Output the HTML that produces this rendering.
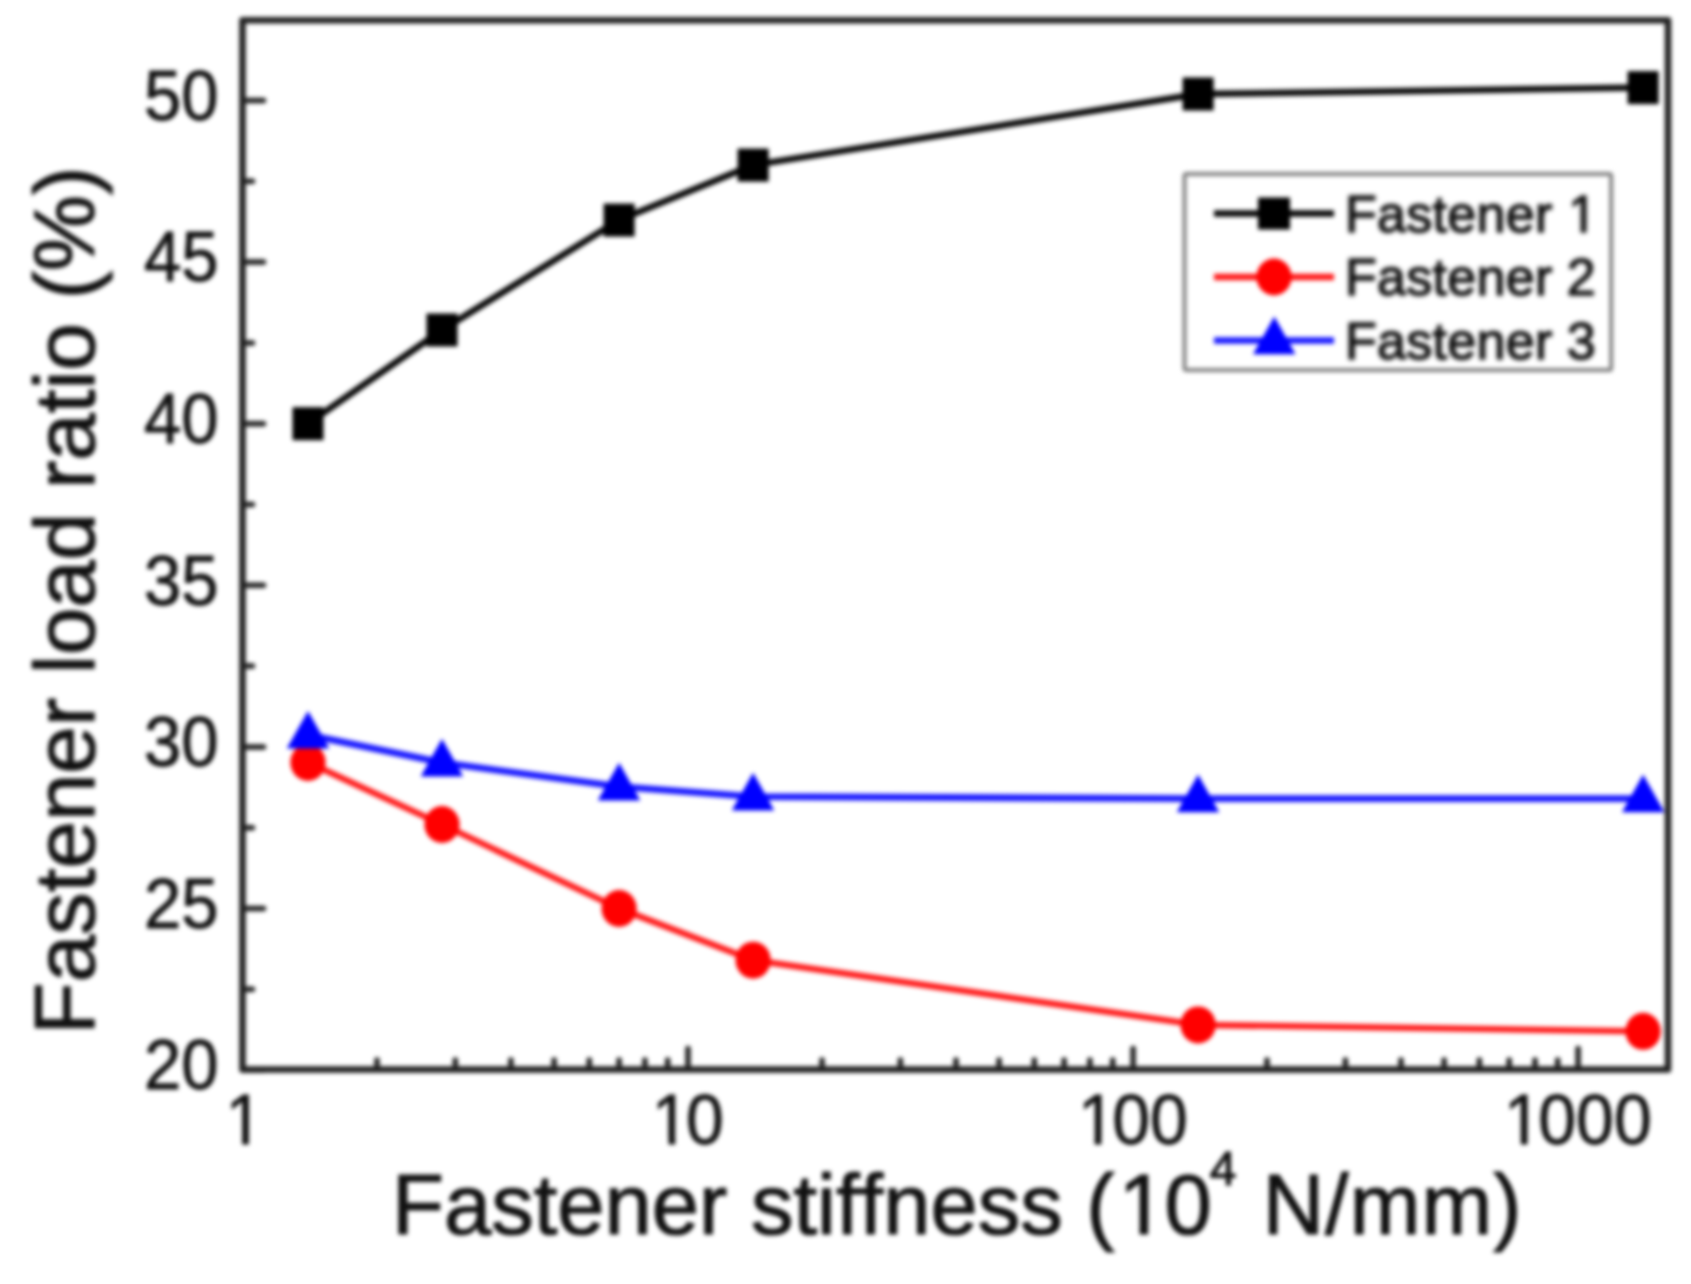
<!DOCTYPE html>
<html><head><meta charset="utf-8"><title>Fastener load ratio</title>
<style>
html,body{margin:0;padding:0;background:#fff;}
body{width:1691px;height:1284px;overflow:hidden;}
svg{display:block;font-family:"Liberation Sans",sans-serif;}
text{stroke:#111;stroke-width:0.8px;font-kerning:none;font-variant-ligatures:none;}
</style></head><body>
<svg width="1691" height="1284" viewBox="0 0 1691 1284">
<defs>
<filter id="b" color-interpolation-filters="sRGB" x="-5%" y="-5%" width="110%" height="110%"><feGaussianBlur stdDeviation="1.9" color-interpolation-filters="sRGB"/></filter>
<filter id="b2" color-interpolation-filters="sRGB" x="-5%" y="-20%" width="110%" height="140%"><feGaussianBlur stdDeviation="0.8"/></filter>
<clipPath id="c"><rect x="0" y="0" width="1691" height="1255.5"/></clipPath>
</defs>
<rect width="1691" height="1284" fill="#fff"/>
<g filter="url(#b)">

<rect x="242.5" y="20.3" width="1425.5" height="1049.2" fill="none" stroke="#222" stroke-width="6.6" stroke-linejoin="round"/>
<line x1="242.5" y1="1070.1" x2="263.5" y2="1070.1" stroke="#222" stroke-width="5.5" stroke-linecap="round"/>
<line x1="242.5" y1="908.5" x2="263.5" y2="908.5" stroke="#222" stroke-width="5.5" stroke-linecap="round"/>
<line x1="242.5" y1="746.9" x2="263.5" y2="746.9" stroke="#222" stroke-width="5.5" stroke-linecap="round"/>
<line x1="242.5" y1="585.3" x2="263.5" y2="585.3" stroke="#222" stroke-width="5.5" stroke-linecap="round"/>
<line x1="242.5" y1="423.7" x2="263.5" y2="423.7" stroke="#222" stroke-width="5.5" stroke-linecap="round"/>
<line x1="242.5" y1="262.1" x2="263.5" y2="262.1" stroke="#222" stroke-width="5.5" stroke-linecap="round"/>
<line x1="242.5" y1="100.5" x2="263.5" y2="100.5" stroke="#222" stroke-width="5.5" stroke-linecap="round"/>
<line x1="242.5" y1="989.3" x2="252.5" y2="989.3" stroke="#222" stroke-width="5.5" stroke-linecap="round"/>
<line x1="242.5" y1="827.7" x2="252.5" y2="827.7" stroke="#222" stroke-width="5.5" stroke-linecap="round"/>
<line x1="242.5" y1="666.1" x2="252.5" y2="666.1" stroke="#222" stroke-width="5.5" stroke-linecap="round"/>
<line x1="242.5" y1="504.5" x2="252.5" y2="504.5" stroke="#222" stroke-width="5.5" stroke-linecap="round"/>
<line x1="242.5" y1="342.9" x2="252.5" y2="342.9" stroke="#222" stroke-width="5.5" stroke-linecap="round"/>
<line x1="242.5" y1="181.3" x2="252.5" y2="181.3" stroke="#222" stroke-width="5.5" stroke-linecap="round"/>
<line x1="377.0" y1="1069.5" x2="377.0" y2="1060.0" stroke="#222" stroke-width="5.5" stroke-linecap="round"/>
<line x1="455.3" y1="1069.5" x2="455.3" y2="1060.0" stroke="#222" stroke-width="5.5" stroke-linecap="round"/>
<line x1="510.9" y1="1069.5" x2="510.9" y2="1060.0" stroke="#222" stroke-width="5.5" stroke-linecap="round"/>
<line x1="554.1" y1="1069.5" x2="554.1" y2="1060.0" stroke="#222" stroke-width="5.5" stroke-linecap="round"/>
<line x1="589.3" y1="1069.5" x2="589.3" y2="1060.0" stroke="#222" stroke-width="5.5" stroke-linecap="round"/>
<line x1="619.1" y1="1069.5" x2="619.1" y2="1060.0" stroke="#222" stroke-width="5.5" stroke-linecap="round"/>
<line x1="644.9" y1="1069.5" x2="644.9" y2="1060.0" stroke="#222" stroke-width="5.5" stroke-linecap="round"/>
<line x1="667.7" y1="1069.5" x2="667.7" y2="1060.0" stroke="#222" stroke-width="5.5" stroke-linecap="round"/>
<line x1="688.0" y1="1069.5" x2="688.0" y2="1048.5" stroke="#222" stroke-width="5.5" stroke-linecap="round"/>
<line x1="822.0" y1="1069.5" x2="822.0" y2="1060.0" stroke="#222" stroke-width="5.5" stroke-linecap="round"/>
<line x1="900.4" y1="1069.5" x2="900.4" y2="1060.0" stroke="#222" stroke-width="5.5" stroke-linecap="round"/>
<line x1="956.0" y1="1069.5" x2="956.0" y2="1060.0" stroke="#222" stroke-width="5.5" stroke-linecap="round"/>
<line x1="999.1" y1="1069.5" x2="999.1" y2="1060.0" stroke="#222" stroke-width="5.5" stroke-linecap="round"/>
<line x1="1034.3" y1="1069.5" x2="1034.3" y2="1060.0" stroke="#222" stroke-width="5.5" stroke-linecap="round"/>
<line x1="1064.1" y1="1069.5" x2="1064.1" y2="1060.0" stroke="#222" stroke-width="5.5" stroke-linecap="round"/>
<line x1="1089.9" y1="1069.5" x2="1089.9" y2="1060.0" stroke="#222" stroke-width="5.5" stroke-linecap="round"/>
<line x1="1112.7" y1="1069.5" x2="1112.7" y2="1060.0" stroke="#222" stroke-width="5.5" stroke-linecap="round"/>
<line x1="1133.1" y1="1069.5" x2="1133.1" y2="1048.5" stroke="#222" stroke-width="5.5" stroke-linecap="round"/>
<line x1="1267.0" y1="1069.5" x2="1267.0" y2="1060.0" stroke="#222" stroke-width="5.5" stroke-linecap="round"/>
<line x1="1345.4" y1="1069.5" x2="1345.4" y2="1060.0" stroke="#222" stroke-width="5.5" stroke-linecap="round"/>
<line x1="1401.0" y1="1069.5" x2="1401.0" y2="1060.0" stroke="#222" stroke-width="5.5" stroke-linecap="round"/>
<line x1="1444.1" y1="1069.5" x2="1444.1" y2="1060.0" stroke="#222" stroke-width="5.5" stroke-linecap="round"/>
<line x1="1479.4" y1="1069.5" x2="1479.4" y2="1060.0" stroke="#222" stroke-width="5.5" stroke-linecap="round"/>
<line x1="1509.2" y1="1069.5" x2="1509.2" y2="1060.0" stroke="#222" stroke-width="5.5" stroke-linecap="round"/>
<line x1="1535.0" y1="1069.5" x2="1535.0" y2="1060.0" stroke="#222" stroke-width="5.5" stroke-linecap="round"/>
<line x1="1557.7" y1="1069.5" x2="1557.7" y2="1060.0" stroke="#222" stroke-width="5.5" stroke-linecap="round"/>
<line x1="1578.1" y1="1069.5" x2="1578.1" y2="1048.5" stroke="#222" stroke-width="5.5" stroke-linecap="round"/>
<polyline points="308.0,423.7 442.0,330.0 619.1,220.1 753.1,165.1 1198.1,94.0 1643.1,87.6" fill="none" stroke="#0a0a0a" stroke-width="6.5" stroke-linejoin="round"/>
<polyline points="308.0,762.4 442.0,824.5 619.1,908.5 753.1,960.2 1198.1,1024.9 1643.1,1031.3" fill="none" stroke="#ff1a1a" stroke-width="6.3" stroke-linejoin="round"/>
<polyline points="308.0,734.9 442.0,762.7 619.1,786.7 753.1,796.7 1198.1,798.6 1643.1,798.6" fill="none" stroke="#1a1aff" stroke-width="6.8" stroke-linejoin="round"/>
<rect x="292.5" y="407.2" width="31" height="33" fill="#000"/>
<rect x="426.5" y="313.5" width="31" height="33" fill="#000"/>
<rect x="603.6" y="203.6" width="31" height="33" fill="#000"/>
<rect x="737.6" y="148.6" width="31" height="33" fill="#000"/>
<rect x="1182.6" y="77.5" width="31" height="33" fill="#000"/>
<rect x="1627.6" y="71.1" width="31" height="33" fill="#000"/>
<ellipse cx="308.0" cy="762.4" rx="17.6" ry="18.5" fill="#f00"/>
<ellipse cx="442.0" cy="824.5" rx="17.6" ry="18.5" fill="#f00"/>
<ellipse cx="619.1" cy="908.5" rx="17.6" ry="18.5" fill="#f00"/>
<ellipse cx="753.1" cy="960.2" rx="17.6" ry="18.5" fill="#f00"/>
<ellipse cx="1198.1" cy="1024.9" rx="17.6" ry="18.5" fill="#f00"/>
<ellipse cx="1643.1" cy="1031.3" rx="17.6" ry="18.5" fill="#f00"/>
<polygon points="308.0,710.9 329.3,748.6 286.8,748.6" fill="#00f"/>
<polygon points="442.0,738.7 463.2,776.4 420.7,776.4" fill="#00f"/>
<polygon points="619.1,762.7 640.3,800.4 597.8,800.4" fill="#00f"/>
<polygon points="753.1,772.7 774.3,810.4 731.8,810.4" fill="#00f"/>
<polygon points="1198.1,774.6 1219.3,812.3 1176.8,812.3" fill="#00f"/>
<polygon points="1643.1,774.6 1664.4,812.3 1621.9,812.3" fill="#00f"/>
<rect x="1184.5" y="174" width="426.7" height="196" fill="#fff" stroke="#828282" stroke-width="4" rx="2"/>
<line x1="1214" y1="213.5" x2="1334" y2="213.5" stroke="#0a0a0a" stroke-width="6.5"/>
<line x1="1214" y1="277" x2="1334" y2="277" stroke="#ff1a1a" stroke-width="6.3"/>
<line x1="1214" y1="340.5" x2="1334" y2="340.5" stroke="#1a1aff" stroke-width="6.5"/>
<rect x="1258.0" y="197.5" width="32" height="32" fill="#000"/>
<ellipse cx="1274.0" cy="277.0" rx="17.6" ry="18.5" fill="#f00"/>
<polygon points="1274.3,316.5 1295.5,354.2 1253.0,354.2" fill="#00f"/>
<g filter="url(#b2)">
<text id="lg1" x="1345" y="231.5" font-size="52" letter-spacing="0.3" style="stroke-width:1.4px" fill="#111">Fastener <tspan x="1568.15">1</tspan></text>
<rect x="1570.42" y="226.32" width="10.12" height="8.48" fill="#fff"/>
<rect x="1586.53" y="226.32" width="9.71" height="8.48" fill="#fff"/>
</g>
<g filter="url(#b2)">
<text id="lg2" x="1345" y="295" font-size="52" letter-spacing="0.3" style="stroke-width:1.4px" fill="#111">Fastener <tspan x="1566.65">2</tspan></text>
</g>
<g filter="url(#b2)">
<text id="lg3" x="1345" y="358.5" font-size="52" letter-spacing="0.3" style="stroke-width:1.4px" fill="#111">Fastener <tspan x="1566.65">3</tspan></text>
</g>
<g transform="translate(0,1089.4) scale(1,1.045) translate(0,-1089.4)"><text id="yt20" x="218.5" y="1089.4" font-size="67" text-anchor="end" fill="#111">20</text></g>
<g transform="translate(0,927.8) scale(1,1.045) translate(0,-927.8)"><text id="yt25" x="218.5" y="927.8" font-size="67" text-anchor="end" fill="#111">25</text></g>
<g transform="translate(0,766.2) scale(1,1.045) translate(0,-766.2)"><text id="yt30" x="218.5" y="766.2" font-size="67" text-anchor="end" fill="#111">30</text></g>
<g transform="translate(0,604.6) scale(1,1.045) translate(0,-604.6)"><text id="yt35" x="218.5" y="604.6" font-size="67" text-anchor="end" fill="#111">35</text></g>
<g transform="translate(0,443.0) scale(1,1.045) translate(0,-443.0)"><text id="yt40" x="218.5" y="443.0" font-size="67" text-anchor="end" fill="#111">40</text></g>
<g transform="translate(0,281.4) scale(1,1.045) translate(0,-281.4)"><text id="yt45" x="218.5" y="281.4" font-size="67" text-anchor="end" fill="#111">45</text></g>
<g transform="translate(0,119.8) scale(1,1.045) translate(0,-119.8)"><text id="yt50" x="218.5" y="119.8" font-size="67" text-anchor="end" fill="#111">50</text></g>
<g transform="translate(0,1145.3) scale(1,1.037) translate(0,-1145.3)">
<text id="xt0" y="1144.3" font-size="68" fill="#111"><tspan x="225.39">1</tspan></text>
<rect x="229.17" y="1138.22" width="12.92" height="9.08" fill="#fff"/>
<rect x="248.90" y="1138.22" width="12.39" height="9.08" fill="#fff"/>
</g>
<g transform="translate(0,1145.3) scale(1,1.037) translate(0,-1145.3)">
<text id="xt1" y="1144.3" font-size="68" fill="#111"><tspan x="651.81">1</tspan><tspan x="686.03">0</tspan></text>
<rect x="655.59" y="1138.22" width="12.92" height="9.08" fill="#fff"/>
<rect x="675.32" y="1138.22" width="12.39" height="9.08" fill="#fff"/>
</g>
<g transform="translate(0,1145.3) scale(1,1.037) translate(0,-1145.3)">
<text id="xt2" y="1144.3" font-size="68" fill="#111"><tspan x="1077.93">1</tspan><tspan x="1112.15">00</tspan></text>
<rect x="1081.71" y="1138.22" width="12.92" height="9.08" fill="#fff"/>
<rect x="1101.44" y="1138.22" width="12.39" height="9.08" fill="#fff"/>
</g>
<g transform="translate(0,1145.3) scale(1,1.037) translate(0,-1145.3)">
<text id="xt3" y="1144.3" font-size="68" fill="#111"><tspan x="1504.05">1</tspan><tspan x="1538.27">000</tspan></text>
<rect x="1507.83" y="1138.22" width="12.92" height="9.08" fill="#fff"/>
<rect x="1527.56" y="1138.22" width="12.39" height="9.08" fill="#fff"/>
</g>
<g clip-path="url(#c)"><g transform="translate(0,1234) scale(1,1.008) translate(0,-1234)"><text id="xtitle" x="392" y="1234" font-size="85" style="stroke-width:1.2px" fill="#111">Fastener stiffness (<tspan x="1118.7">1</tspan><tspan x="1164.5">0</tspan><tspan x="1209.7" font-size="48" dy="-48.5">4</tspan><tspan x="1238.08" dy="48.5" letter-spacing="1"> N/mm)</tspan></text>
<rect x="1123.57" y="1226.45" width="15.90" height="10.75" fill="#fff"/>
<rect x="1148.19" y="1226.45" width="15.24" height="10.75" fill="#fff"/>
</g></g>
<text id="ytitle" transform="translate(94,1034.5) rotate(-90) scale(1.004,1.01)" font-size="85" style="stroke-width:1.2px" fill="#111">Fastener load ratio (%)</text>
</g></svg></body></html>
